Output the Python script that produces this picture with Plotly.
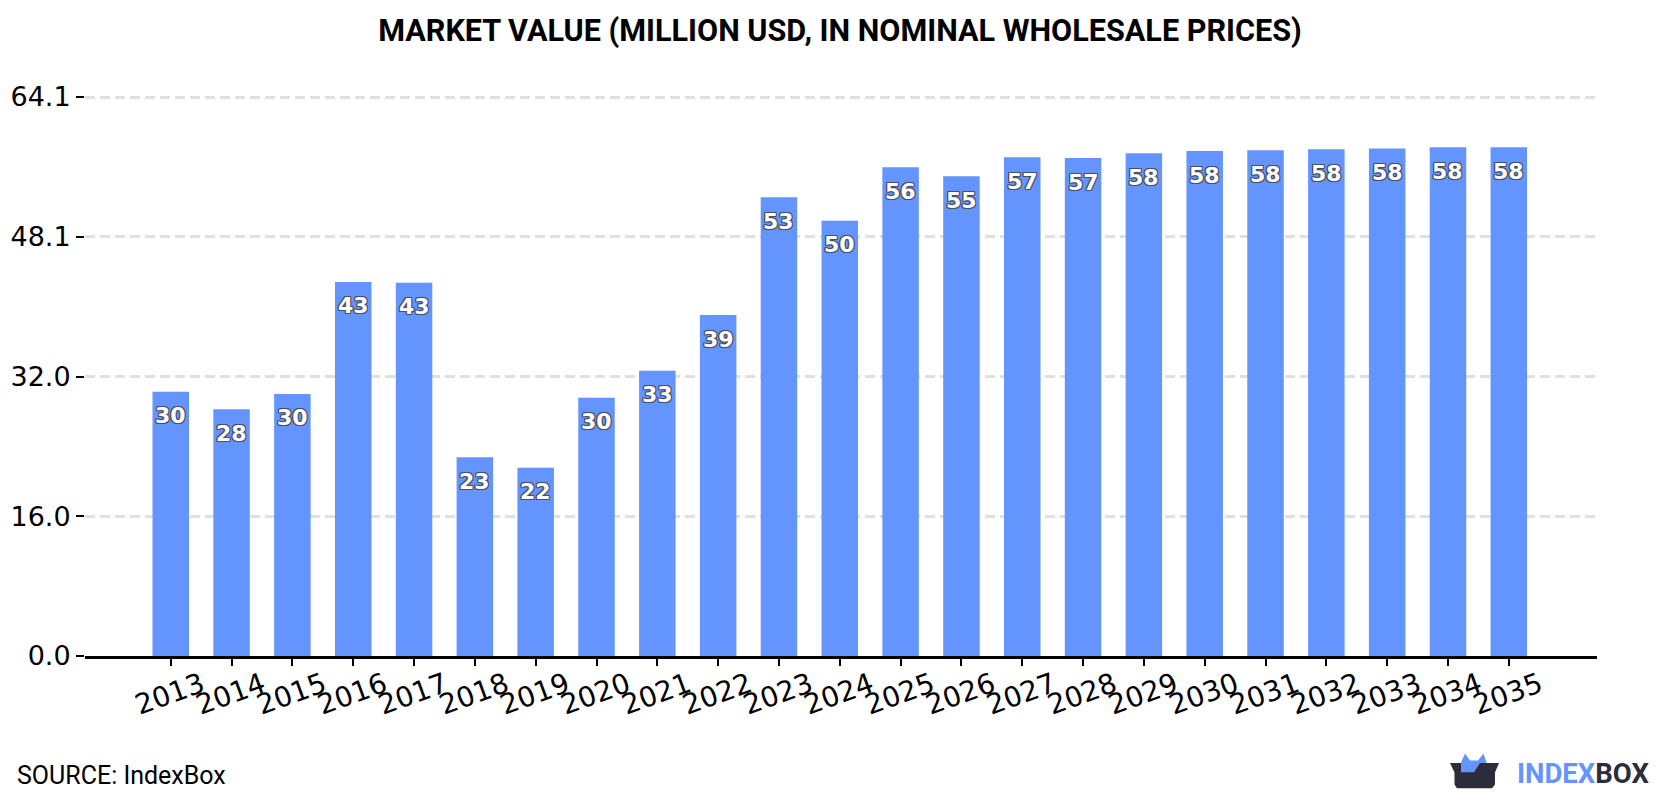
import plotly.graph_objects as go

years = [str(y) for y in range(2013, 2036)]
values = [30.3, 28.3, 30.05, 42.9, 42.8, 22.8, 21.6, 29.6, 32.7, 39.1, 52.6, 49.9,
          56.05, 55.0, 57.2, 57.1, 57.65, 57.9, 58.0, 58.1, 58.2, 58.35, 58.35]
y_ticks = [0.0, 16.0, 32.0, 48.1, 64.1]
y_tick_labels = ["0.0", "16.0", "32.0", "48.1", "64.1"]

BLUE = "#6495ff"
DARK = "#2b2d3a"
OUTLINE = (
    "-1px -1px 0 #4a4f60, 1px -1px 0 #4a4f60, -1px 1px 0 #4a4f60, 1px 1px 0 #4a4f60, "
    "-1px 0 0 #4a4f60, 1px 0 0 #4a4f60, 0 1px 0 #4a4f60, 0 -1px 0 #4a4f60"
)

W, H = 1680, 800
LEFT, RIGHT, TOP, BOTTOM = 85, 83, 94.7, 143.7

fig = go.Figure(
    go.Bar(
        x=list(range(len(years))),
        y=values,
        width=0.6,
        marker=dict(color=BLUE, line=dict(width=0)),
        hoverinfo="x+y",
    )
)


def page_path(points):
    """SVG path for a brand shape given in page pixels, expressed in plot-area fractions."""
    pw, ph = W - LEFT - RIGHT, H - TOP - BOTTOM
    return "M " + " L ".join(
        f"{(x - LEFT) / pw:.5f},{(H - BOTTOM - y) / ph:.5f}" for x, y in points
    ) + " Z"


logo_body = [(1450, 763.3), (1499, 763.3), (1495, 773), (1495, 785), (1492, 788.7),
             (1457, 788.7), (1454.5, 785), (1454.5, 773)]
logo_flap = [(1461, 772.7), (1474, 772.7), (1480, 763.3), (1486.7, 763.3), (1483.5, 754),
             (1478, 761), (1470, 761), (1465, 754), (1461, 763)]

# Value labels sit a fixed distance below each bar top
value_labels = [
    dict(
        text=f"{v:.0f}",
        x=i, y=v, xref="x", yref="y",
        yshift=-24, xanchor="center", yanchor="middle",
        showarrow=False,
        font=dict(family="DejaVu Sans", size=22, weight="bold", color="white", shadow=OUTLINE),
    )
    for i, v in enumerate(values)
]

fig.update_layout(
    width=W,
    height=H,
    margin=dict(l=LEFT, r=RIGHT, t=TOP, b=BOTTOM),
    paper_bgcolor="white",
    plot_bgcolor="white",
    showlegend=False,
    title=dict(
        text="<b>MARKET VALUE (MILLION USD, IN NOMINAL WHOLESALE PRICES)</b>",
        x=0.5,
        xanchor="center",
        y=1 - 30 / H,
        yanchor="middle",
        font=dict(family="Roboto", size=30.6, color="black"),
    ),
    xaxis=dict(
        automargin=False,
        range=[-1.41, 23.45],
        tickmode="array",
        tickvals=list(range(len(years))),
        ticktext=years,
        tickangle=-20,
        ticklabelshift=31,
        ticklabelstandoff=-8,
        tickfont=dict(family="DejaVu Sans", size=28, color="black"),
        ticks="outside",
        ticklen=7,
        tickwidth=2,
        tickcolor="black",
        showline=True,
        linecolor="black",
        linewidth=3,
        showgrid=False,
        zeroline=False,
    ),
    yaxis=dict(
        automargin=False,
        range=[0, 64.33],
        tickmode="array",
        tickvals=y_ticks,
        ticktext=y_tick_labels,
        tickfont=dict(family="DejaVu Sans", size=27, color="black"),
        ticks="outside",
        ticklen=8,
        tickwidth=2,
        tickcolor="black",
        showline=False,
        showgrid=True,
        gridcolor="#e0e0e0",
        gridwidth=2.5,
        griddash="10px,5px",
        zeroline=False,
    ),
    annotations=value_labels + [
        dict(
            text="SOURCE: IndexBox",
            xref="paper", yref="paper",
            x=0, y=0, xshift=15 - LEFT, yshift=-(776 - (H - BOTTOM)),
            xanchor="left", yanchor="middle", showarrow=False,
            font=dict(family="Roboto", size=25, color="black"),
        ),
        dict(
            text=f"<b><span style='color:{BLUE}'>INDEX</span><span style='color:{DARK}'>BOX</span></b>",
            xref="paper", yref="paper",
            x=1, y=0, xshift=1515 - (W - RIGHT), yshift=-(774 - (H - BOTTOM)),
            xanchor="left", yanchor="middle", showarrow=False,
            font=dict(family="Roboto", size=27.5),
        ),
    ],
    shapes=[
        dict(type="path", xref="paper", yref="paper", path=page_path(logo_body), fillcolor=DARK, line=dict(width=0)),
        dict(type="path", xref="paper", yref="paper", path=page_path(logo_flap), fillcolor=BLUE, line=dict(width=0)),
    ],
)

fig.write_html("out.html")
